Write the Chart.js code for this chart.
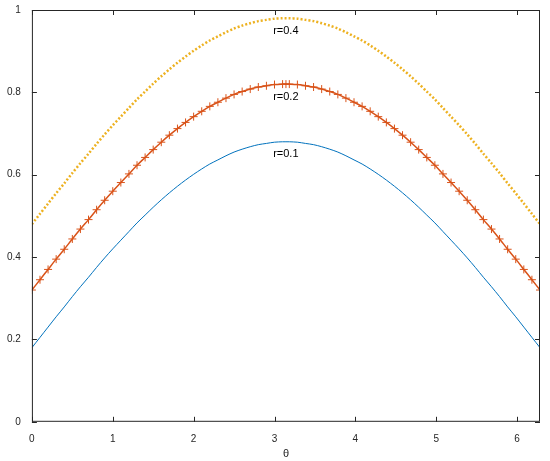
<!DOCTYPE html>
<html><head><meta charset="utf-8">
<script src="https://cdn.jsdelivr.net/npm/chart.js@4/dist/chart.umd.min.js"></script>
<style>html,body{margin:0;background:#fff}#w{width:550px;height:461px}</style>
</head><body><div id="w"><canvas id="c"></canvas></div>
<script>
const thetaX=[0,0.1,0.2,0.3,0.4,0.5,0.6,0.7,0.8,0.9,1.0,1.1,1.2,1.3,1.4,1.5,1.6,1.7,1.8,1.9,2.0,2.1,2.2,2.3,2.4,2.5,2.6,2.7,2.8,2.9,3.0,3.1,3.1416,
3.1832,3.2832,3.3832,3.4832,3.5832,3.6832,3.7832,3.8832,3.9832,4.0832,4.1832,4.2832,4.3832,4.4832,4.5832,4.6832,4.7832,4.8832,4.9832,5.0832,5.1832,5.2832,5.3832,5.4832,5.5832,5.6832,5.7832,5.8832,5.9832,6.0832,6.1832,6.2832];
const r01=[0.180,0.205,0.230,0.255,0.279,0.304,0.328,0.351,0.375,0.398,0.420,0.441,0.462,0.483,0.502,0.521,0.539,0.556,0.572,0.587,0.601,0.614,0.626,0.636,0.646,0.655,0.662,0.668,0.673,0.676,0.679,0.680,0.680,
0.680,0.679,0.676,0.673,0.668,0.662,0.655,0.646,0.636,0.626,0.614,0.601,0.587,0.572,0.556,0.539,0.521,0.502,0.483,0.462,0.441,0.420,0.398,0.375,0.351,0.328,0.304,0.279,0.255,0.230,0.205,0.180];
const r02=[0.320,0.345,0.370,0.395,0.419,0.444,0.468,0.491,0.515,0.538,0.560,0.581,0.602,0.623,0.642,0.661,0.679,0.696,0.712,0.727,0.741,0.754,0.766,0.776,0.786,0.795,0.802,0.808,0.813,0.816,0.819,0.820,0.820,
0.820,0.819,0.816,0.813,0.808,0.802,0.795,0.786,0.776,0.766,0.754,0.741,0.727,0.712,0.696,0.679,0.661,0.642,0.623,0.602,0.581,0.560,0.538,0.515,0.491,0.468,0.444,0.419,0.395,0.370,0.345,0.320];
const r04=[0.480,0.505,0.530,0.555,0.579,0.604,0.628,0.651,0.675,0.698,0.720,0.741,0.762,0.783,0.802,0.821,0.839,0.856,0.872,0.887,0.901,0.914,0.926,0.936,0.946,0.955,0.962,0.968,0.973,0.976,0.979,0.980,0.980,
0.980,0.979,0.976,0.973,0.968,0.962,0.955,0.946,0.936,0.926,0.914,0.901,0.887,0.872,0.856,0.839,0.821,0.802,0.783,0.762,0.741,0.720,0.698,0.675,0.651,0.628,0.604,0.579,0.555,0.530,0.505,0.480];
const xTicks=[0,1,2,3,4,5,6];
const yTicks=[0,0.2,0.4,0.6,0.8,1];
const labels=[{t:'r=0.4',x:3.14,y:0.95},{t:'r=0.2',x:3.14,y:0.79},{t:'r=0.1',x:3.14,y:0.65}];
const pts=a=>a.map((v,i)=>({x:thetaX[i],y:v}));
const boxPlugin={id:'box',afterDraw(ch){const{ctx,chartArea:a,scales:{x,y}}=ch;ctx.save();ctx.strokeStyle='#262626';ctx.lineWidth=1;
ctx.strokeRect(a.left+0.5,a.top+0.5,a.right-a.left-1,a.bottom-a.top-1);ctx.beginPath();
xTicks.forEach(t=>{const p=Math.round(x.getPixelForValue(t))+0.5;ctx.moveTo(p,a.bottom);ctx.lineTo(p,a.bottom-5);ctx.moveTo(p,a.top);ctx.lineTo(p,a.top+5);});
yTicks.forEach(t=>{const p=Math.round(y.getPixelForValue(t))+0.5;ctx.moveTo(a.left,p);ctx.lineTo(a.left+5,p);ctx.moveTo(a.right,p);ctx.lineTo(a.right-5,p);});
ctx.stroke();ctx.fillStyle='#000';ctx.font='11px "Liberation Sans"';ctx.textAlign='center';ctx.textBaseline='middle';
labels.forEach(l=>ctx.fillText(l.t,x.getPixelForValue(l.x),y.getPixelForValue(l.y)));ctx.restore();}};
new Chart(document.getElementById('c'),{type:'scatter',
data:{datasets:[
{data:pts(r01),showLine:true,borderColor:'#0072BD',borderWidth:1,pointRadius:0,tension:0.3},
{data:pts(r02),showLine:true,borderColor:'#D95319',borderWidth:1.5,pointStyle:'cross',pointRadius:4,pointBorderColor:'#D95319',pointBorderWidth:1,tension:0.3},
{data:pts(r04),showLine:true,borderColor:'#EDB120',borderWidth:2.5,borderDash:[2,2],pointRadius:0,tension:0.3}]},
options:{animation:false,responsive:true,maintainAspectRatio:false,
layout:{padding:{top:10,right:10,left:4,bottom:0}},
plugins:{legend:{display:false},tooltip:{enabled:false}},
scales:{
x:{type:'linear',min:0,max:6.2832,afterBuildTicks:s=>{s.ticks=xTicks.map(v=>({value:v}))},grid:{display:false},border:{display:false},
ticks:{color:'#262626',font:{size:10,family:'Liberation Sans'},maxRotation:0,callback:v=>String(v)},
title:{display:true,text:'θ',color:'#262626',font:{size:11,family:'Liberation Sans'},padding:0}},
y:{min:0,max:1,afterBuildTicks:s=>{s.ticks=yTicks.map(v=>({value:v}))},grid:{display:false},border:{display:false},
ticks:{color:'#262626',font:{size:10,family:'Liberation Sans'},callback:v=>String(v)}}}},
plugins:[boxPlugin]});
</script></body></html>
